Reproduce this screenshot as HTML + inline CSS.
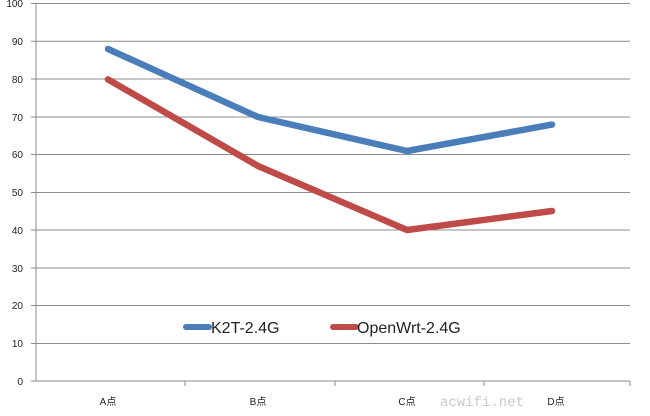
<!DOCTYPE html>
<html><head><style>body{margin:0;background:#fff}svg{display:block}</style></head><body>
<svg width="650" height="416" xmlns="http://www.w3.org/2000/svg" font-family="Liberation Sans, Noto Sans CJK SC, sans-serif">
<g stroke="#8c8c8c" stroke-width="1">
<line x1="36" y1="3.5" x2="630" y2="3.5"/><line x1="36" y1="41.3" x2="630" y2="41.3"/><line x1="36" y1="79" x2="630" y2="79"/><line x1="36" y1="117" x2="630" y2="117"/><line x1="36" y1="154.5" x2="630" y2="154.5"/><line x1="36" y1="192.5" x2="630" y2="192.5"/><line x1="36" y1="230" x2="630" y2="230"/><line x1="36" y1="268" x2="630" y2="268"/><line x1="36" y1="305.5" x2="630" y2="305.5"/><line x1="36" y1="343.5" x2="630" y2="343.5"/><line x1="36" y1="381" x2="630" y2="381"/>
<line x1="36" y1="3" x2="36" y2="381"/>
<line x1="31" y1="3.5" x2="36" y2="3.5"/><line x1="31" y1="41.3" x2="36" y2="41.3"/><line x1="31" y1="79" x2="36" y2="79"/><line x1="31" y1="117" x2="36" y2="117"/><line x1="31" y1="154.5" x2="36" y2="154.5"/><line x1="31" y1="192.5" x2="36" y2="192.5"/><line x1="31" y1="230" x2="36" y2="230"/><line x1="31" y1="268" x2="36" y2="268"/><line x1="31" y1="305.5" x2="36" y2="305.5"/><line x1="31" y1="343.5" x2="36" y2="343.5"/><line x1="31" y1="381" x2="36" y2="381"/>
<line x1="185" y1="381" x2="185" y2="386"/><line x1="335" y1="381" x2="335" y2="386"/><line x1="484" y1="381" x2="484" y2="386"/><line x1="630" y1="381" x2="630" y2="386"/>
</g>
<g font-size="10" fill="#222" text-anchor="end">
<text x="23" y="7">100</text><text x="23" y="45">90</text><text x="23" y="83">80</text><text x="23" y="121">70</text><text x="23" y="158">60</text><text x="23" y="196">50</text><text x="23" y="234">40</text><text x="23" y="272">30</text><text x="23" y="309">20</text><text x="23" y="347">10</text><text x="23" y="385">0</text>
</g>
<g font-size="10" fill="#222" text-anchor="middle">
<text x="108" y="405">A点</text><text x="258" y="405">B点</text><text x="407" y="405">C点</text><text x="556" y="405">D点</text>
</g>
<text x="440" y="406" font-family="Liberation Mono, monospace" font-size="14" fill="#c8c8c8">acwifi.net</text>
<polyline points="108,49 258,117 407,151 552,124.6" fill="none" stroke="#4a7ebb" stroke-width="6.5" stroke-linecap="round" stroke-linejoin="round"/>
<polyline points="108,79.4 258,166 407,230 552,211" fill="none" stroke="#be4b48" stroke-width="6.5" stroke-linecap="round" stroke-linejoin="round"/>
<line x1="186" y1="327" x2="209" y2="327" stroke="#4a7ebb" stroke-width="6" stroke-linecap="round"/>
<text x="211" y="333" font-size="16" fill="#222">K2T-2.4G</text>
<line x1="333" y1="327" x2="356" y2="327" stroke="#be4b48" stroke-width="6" stroke-linecap="round"/>
<text x="357" y="333" font-size="16" fill="#222">OpenWrt-2.4G</text>
</svg>
</body></html>
